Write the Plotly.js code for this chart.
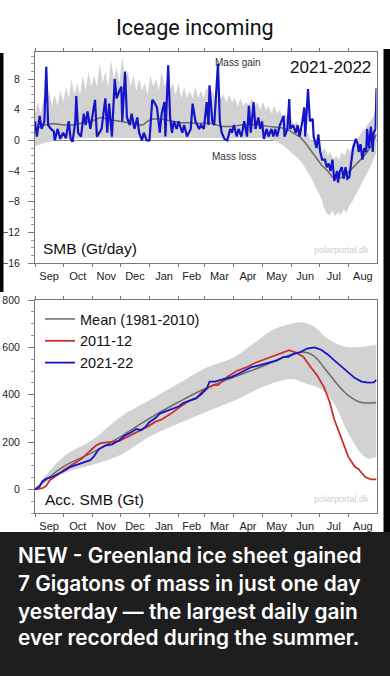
<!DOCTYPE html>
<html><head><meta charset="utf-8">
<script src="https://cdn.plot.ly/plotly-3.0.1.min.js"></script>
<style>html,body{margin:0;padding:0;background:#fff;}#c{width:390px;height:676px;}</style>
</head><body><div id="c"></div>
<script>
// ---- Data (day offsets from 2021-09-01) ----
const monthLabels = ['Sep','Oct','Nov','Dec','Jan','Feb','Mar','Apr','May','Jun','Jul','Aug'];

// Daily SMB 2021-22 (Gt/day)
const smbDay = [0,2,5,7,10,12,14,17,20,21,24,27,30,33,36,38,40,43,44,46,49,52,54,56,59,62,64,66,69,71,75,77,79,82,85,87,90,92,93,96,98,101,103,106,109,111,114,116,119,122,125,127,130,133,135,138,139,142,144,146,148,151,153,157,159,162,166,168,171,175,177,180,183,185,186,189,191,193,195,197,199,202,205,208,210,212,215,217,220,223,226,228,230,233,235,238,240,242,244,247,249,252,254,256,258,261,265,266,269,271,272,275,278,280,282,285,287,288,291,293,296,297,300,302,304,306,309,311,313,315,317,319,322,323,325,327,329,331,333,335,337,339,342,344,345,347,349,351,353,354,356,358,360,361,363,364];
const smbVal = [2.5,0.5,3.2,1.5,2.5,9.6,2,1.5,1.2,0,1.5,0.2,1,0.3,2.5,0.2,-0.2,2.5,5.8,1,0.5,3.5,2,3.8,1.5,3.5,5.3,0.5,1,1.5,5.5,1,4.8,0.5,8.0,5.5,6.5,7,2.5,9.0,3,2,3.5,1.5,3,1,0,1,0,0,5.3,5,4.3,1,3.5,5,0.5,9.8,3,1,2.5,1.5,2.5,1,2,0.5,1.5,4.8,2.5,1.5,2,1.5,5,2,7.2,2.5,2,6,10,2.5,1,0.2,0,1.5,1,2,0.5,1.5,0.5,2.5,0.5,4.5,1,5,1.5,3,1.5,2.5,0.2,1.5,0.5,1.5,0.5,1.5,0.5,2,3.2,0.5,1.5,5.4,1.5,2,1,2,0.5,2.5,4.3,0.5,6.7,2.5,2.8,0.5,-1,0.8,-1.5,-2.5,-2.5,-3.5,-3,-4,-2.5,-5.3,-4,-5.5,-4,-3.5,-5,-3.5,-5,-4.8,-3,-1,0.2,-0.5,-1.5,-0.5,-2.5,-1,-1.5,1.5,-1,1.8,-1.5,1,1.5,6.8];

// Mean daily SMB 1981-2010
const meanDay = [0,10,20,30,40,50,60,70,80,90,100,110,115,120,125,135,145,155,165,175,185,195,200,210,220,230,240,250,260,268,275,282,288,294,300,306,312,317,322,327,333,339,345,351,357,361,364];
const meanVal = [1.5,2,2.2,2,2,2.3,2.5,3,2.7,2.5,2.3,2,2,2.5,2.8,2.8,2.5,2.3,2.3,2.2,2.3,2,1.8,1.8,2,2.1,2,1.8,1.7,1.5,1,0.5,-0.3,-1.3,-2.3,-3.3,-4,-4.8,-5,-4.8,-4.3,-3.5,-2.8,-2,-1,0,0.8];

// Daily SMB range (envelope)
const bandUpDay = [0,3,6,9,12,15,18,21,24,27,30,33,36,39,42,45,48,51,54,57,60,63,66,69,72,75,78,81,84,87,90,93,96,99,102,105,108,111,114,117,120,123,126,129,132,135,138,141,144,147,150,153,156,159,162,165,168,171,174,177,180,183,186,189,192,195,198,201,204,207,210,213,216,219,222,225,228,231,234,237,240,243,246,249,252,255,258,261,264,267,270,273,276,279,282,285,288,291,294,297,300,303,306,309,312,315,318,321,324,327,330,333,336,339,342,345,348,351,354,357,360,363,364];
const bandUpVal = [3.5,5,3.5,5.5,4,6.5,4.5,6,4.5,6.5,5,7,5.5,8,6,7.5,6,8.5,6.5,9,7,8.5,7,10,7.5,9,7,10.5,8,9.5,7.5,11,8,9,7,8.5,6.5,8,6.5,7.5,6,8.5,7,8,6.5,9,7,8,6.5,7.5,6,7.5,5.5,7,5.5,6.5,5.5,7,5.5,6.5,5.5,7,5.5,6.5,5.5,7.5,5.5,6,5,6,5,5.5,4.5,5.5,4.5,5,4.5,5.5,4.5,5,4,5,4,4.5,3.5,4.5,3.5,4,3,3.5,2.5,3,2,2.5,1.5,1.5,0.5,1,0,0,-0.8,-0.5,-1.5,-1,-2,-1.5,-2.5,-2,-2.5,-1.5,-2,-1,-1.5,-0.5,0,0.5,1,1.5,2,2.5,3,4,4.5];
const bandLoDay = [0,5,10,15,20,30,60,90,120,150,180,210,240,250,255,260,265,270,275,280,285,290,295,300,305,308,311,314,317,320,323,326,329,332,335,338,341,344,347,350,353,356,359,362,364];
const bandLoVal = [-0.8,-0.5,-0.3,-0.2,0,0.2,0.3,0.3,0.3,0.3,0.3,0.3,0.3,0.2,0,-0.3,-0.7,-1.2,-1.8,-2.3,-3,-4,-5,-6.3,-7.5,-8.8,-9.5,-9.8,-9.2,-9.9,-9.3,-9.7,-9,-9.5,-8.5,-8,-7.3,-6.8,-6,-5.3,-4.5,-3.8,-3,-2,-1.5];

// Accumulated SMB (Gt)
const accMeanDay = [0,30,61,91,122,153,181,212,242,273,285,294,301,308,315,322,330,338,345,352,364];
const accMeanVal = [0,95,155,222,300,369,425,474,519,570,580,572,550,515,480,445,410,385,370,365,367];
const acc2012Day = [0,8,12,16,22,30,40,50,58,65,70,80,90,100,110,120,128,135,145,155,165,172,180,190,195,205,215,225,235,245,255,262,271,278,286,294,301,308,314,319,326,334,341,345,348,352,358,364];
const acc2012Val = [0,5,15,40,55,80,105,130,160,185,195,200,205,225,245,265,285,295,320,350,375,385,420,440,440,475,500,515,535,550,565,575,588,578,560,516,480,432,370,295,220,137,95,85,70,52,42,42];
const acc2022Day = [0,5,8,12,18,25,30,38,45,52,59,63,68,75,82,89,95,102,108,113,118,122,128,133,140,147,153,158,165,172,178,183,186,192,200,210,220,230,240,250,258,265,270,276,283,290,298,305,312,319,326,334,341,348,355,361,364];
const acc2022Val = [0,12,35,45,52,65,75,95,105,115,123,140,170,185,190,205,225,240,255,250,265,285,300,320,330,340,350,365,375,385,405,425,455,455,465,475,495,515,525,535,545,560,560,572,580,595,600,590,570,545,520,495,470,455,451,452,462];
const accBandUpDay = [0,30,61,91,122,153,181,212,242,256,273,287,298,312,326,341,364];
const accBandUpVal = [0,137,208,306,376,447,511,558,643,678,700,705,686,636,608,600,612];
const accBandLoDay = [0,30,61,91,122,153,181,212,242,273,290,305,319,334,348,355,364];
const accBandLoVal = [0,68,103,145,222,278,325,374,431,466,445,424,361,236,150,130,137];

// ---- helpers ----
const t0 = Date.UTC(2021, 8, 1);
const toDate = arr => arr.map(d => new Date(t0 + d * 86400000).toISOString().slice(0, 10));
const W = 390, H = 676;
const px = x => x / W;
const py = y => 1 - y / H;

const BAND = '#d2d2d2', MEANC = '#6a6a6a', BLUE = '#1414c8', RED = '#c8302a';
const FONT = 'Liberation Sans, Arial, sans-serif';

const traces = [
  {x: toDate(bandLoDay), y: bandLoVal, xaxis: 'x', yaxis: 'y', mode: 'lines', line: {width: 0, color: BAND}, showlegend: false, hoverinfo: 'skip'},
  {x: toDate(bandUpDay), y: bandUpVal, xaxis: 'x', yaxis: 'y', mode: 'lines', line: {width: 0, color: BAND}, fill: 'tonexty', fillcolor: BAND, showlegend: false, hoverinfo: 'skip'},
  {x: toDate(meanDay), y: meanVal, xaxis: 'x', yaxis: 'y', mode: 'lines', line: {width: 1.5, color: MEANC}, showlegend: false},
  {x: toDate(smbDay), y: smbVal, xaxis: 'x', yaxis: 'y', mode: 'lines', line: {width: 2.2, color: BLUE}, showlegend: false},

  {x: toDate(accBandLoDay), y: accBandLoVal, xaxis: 'x2', yaxis: 'y2', mode: 'lines', line: {width: 0, color: BAND, shape: 'spline'}, showlegend: false, hoverinfo: 'skip'},
  {x: toDate(accBandUpDay), y: accBandUpVal, xaxis: 'x2', yaxis: 'y2', mode: 'lines', line: {width: 0, color: BAND, shape: 'spline'}, fill: 'tonexty', fillcolor: BAND, showlegend: false, hoverinfo: 'skip'},
  {x: toDate(accMeanDay), y: accMeanVal, xaxis: 'x2', yaxis: 'y2', mode: 'lines', name: 'Mean (1981-2010)', legendgroup: 'a', line: {width: 1.5, color: MEANC, shape: 'spline'}},
  {x: toDate(acc2012Day), y: acc2012Val, xaxis: 'x2', yaxis: 'y2', mode: 'lines', name: '2011-12', legendgroup: 'b', line: {width: 1.8, color: RED}},
  {x: toDate(acc2022Day), y: acc2022Val, xaxis: 'x2', yaxis: 'y2', mode: 'lines', name: '2021-22', legendgroup: 'c', line: {width: 1.8, color: BLUE}}
];

const xCommon = {
  type: 'date', range: ['2021-09-01', '2022-08-31'], dtick: 'M1', tick0: '2021-09-01',
  tickformat: '%b', ticklabelmode: 'period', ticks: 'outside', ticklen: 3, tickcolor: '#777',
  showline: true, linecolor: '#777', linewidth: 1, mirror: 'ticks', showgrid: false, zeroline: false,
  tickfont: {family: FONT, size: 11, color: '#222'}, domain: [px(35), px(376.5)], fixedrange: true
};
const yCommon = {
  ticks: 'outside', ticklen: 6, tickcolor: '#777', showline: true, linecolor: '#777', linewidth: 1,
  mirror: true, showgrid: false, ticklabelstandoff: 6,
  tickfont: {family: FONT, size: 10.5, color: '#222'}, fixedrange: true
};
const yRight = {
  side: 'right', ticks: 'inside', ticklen: 6, tickcolor: '#888', showline: false,
  showticklabels: false, showgrid: false, zeroline: false, fixedrange: true
};

const layout = {
  width: W, height: H, margin: {l: 0, r: 0, t: 0, b: 0},
  paper_bgcolor: '#fff', plot_bgcolor: '#fff',
  xaxis: Object.assign({}, xCommon, {anchor: 'y'}),
  xaxis2: Object.assign({}, xCommon, {anchor: 'y2'}),
  yaxis: Object.assign({}, yCommon, {
    anchor: 'x', domain: [py(263), py(52)], range: [-16, 11.54],
    tickvals: [-16, -12, -8, -4, 0, 4, 8], zeroline: true, zerolinecolor: '#888', zerolinewidth: 1,
    minor: {dtick: 1, tick0: 0, ticks: 'outside', ticklen: 3, tickcolor: '#999'}
  }),
  yaxis2: Object.assign({}, yCommon, {
    anchor: 'x2', domain: [py(513), py(300)], range: [-100, 800],
    tickvals: [0, 200, 400, 600, 800], zeroline: false,
    minor: {dtick: 50, tick0: 0, ticks: 'outside', ticklen: 3, tickcolor: '#999'}
  }),
  yaxis3: Object.assign({}, yRight, {overlaying: 'y', anchor: 'x', range: [-16, 11.54], tickvals: [-16, -12, -8, -4, 0, 4, 8],
    minor: {dtick: 1, tick0: 0, ticks: 'inside', ticklen: 3, tickcolor: '#aaa'}}),
  yaxis4: Object.assign({}, yRight, {overlaying: 'y2', anchor: 'x2', range: [-100, 800], tickvals: [0, 200, 400, 600, 800],
    minor: {dtick: 50, tick0: 0, ticks: 'inside', ticklen: 3, tickcolor: '#aaa'}}),
  showlegend: true,
  legend: {
    x: px(40), y: py(303), xanchor: 'left', yanchor: 'top', bgcolor: 'rgba(0,0,0,0)',
    font: {family: FONT, size: 14.5, color: '#111'}, itemwidth: 30, tracegroupgap: 3, traceorder: 'normal'
  },
  shapes: [
    {type: 'rect', xref: 'paper', yref: 'paper', x0: 0, x1: 1, y0: 0, y1: py(532), fillcolor: '#1e1e1e', line: {width: 0}, layer: 'above'},
    {type: 'rect', xref: 'paper', yref: 'paper', x0: px(383.5), x1: 1, y0: py(532), y1: py(49), fillcolor: '#050505', line: {width: 0}, layer: 'above'},
    {type: 'rect', xref: 'paper', yref: 'paper', x0: 0, x1: px(3.5), y0: py(292), y1: py(53), fillcolor: '#050505', line: {width: 0}, layer: 'above'}
  ],
  annotations: [
    {text: 'Iceage incoming', xref: 'paper', yref: 'paper', x: 0.5, y: py(27), xanchor: 'center', yanchor: 'middle', showarrow: false, font: {family: 'Roboto, sans-serif', size: 21.5, color: '#111'}},
    {text: 'Mass gain', xref: 'paper', yref: 'paper', x: px(238), y: py(62), xanchor: 'center', yanchor: 'middle', showarrow: false, font: {family: FONT, size: 10, color: '#333'}},
    {text: '2021-2022', xref: 'paper', yref: 'paper', x: px(330), y: py(67), xanchor: 'center', yanchor: 'middle', showarrow: false, font: {family: FONT, size: 17, color: '#111'}},
    {text: 'Mass loss', xref: 'paper', yref: 'paper', x: px(234), y: py(156), xanchor: 'center', yanchor: 'middle', showarrow: false, font: {family: FONT, size: 10, color: '#333'}},
    {text: 'SMB (Gt/day)', xref: 'paper', yref: 'paper', x: px(41), y: py(249), xanchor: 'left', yanchor: 'middle', showarrow: false, font: {family: FONT, size: 15.5, color: '#111'}},
    {text: 'polarportal.dk', xref: 'paper', yref: 'paper', x: px(371), y: py(250), xanchor: 'right', yanchor: 'middle', showarrow: false, font: {family: FONT, size: 9, color: '#cdcdcd'}},
    {text: 'Acc. SMB (Gt)', xref: 'paper', yref: 'paper', x: px(43), y: py(499), xanchor: 'left', yanchor: 'middle', showarrow: false, font: {family: FONT, size: 15.5, color: '#111'}},
    {text: 'polarportal.dk', xref: 'paper', yref: 'paper', x: px(371), y: py(499), xanchor: 'right', yanchor: 'middle', showarrow: false, font: {family: FONT, size: 9, color: '#cdcdcd'}},
    {text: 'NEW - Greenland ice sheet gained', xref: 'paper', yref: 'paper', x: px(16), y: py(555), xanchor: 'left', yanchor: 'middle', showarrow: false, font: {family: 'Inter, Roboto, sans-serif', size: 20.8, color: '#fff', weight: 600}},
    {text: '7 Gigatons of mass in just one day', xref: 'paper', yref: 'paper', x: px(16), y: py(583), xanchor: 'left', yanchor: 'middle', showarrow: false, font: {family: 'Inter, Roboto, sans-serif', size: 20.8, color: '#fff', weight: 600}},
    {text: 'yesterday — the largest daily gain', xref: 'paper', yref: 'paper', x: px(16), y: py(611), xanchor: 'left', yanchor: 'middle', showarrow: false, font: {family: 'Inter, Roboto, sans-serif', size: 20.8, color: '#fff', weight: 600}},
    {text: 'ever recorded during the summer.', xref: 'paper', yref: 'paper', x: px(16), y: py(637), xanchor: 'left', yanchor: 'middle', showarrow: false, font: {family: 'Inter, Roboto, sans-serif', size: 20.8, color: '#fff', weight: 600}}
  ]
};

Plotly.newPlot('c', traces, layout, {displayModeBar: false, staticPlot: true});
</script></body></html>
